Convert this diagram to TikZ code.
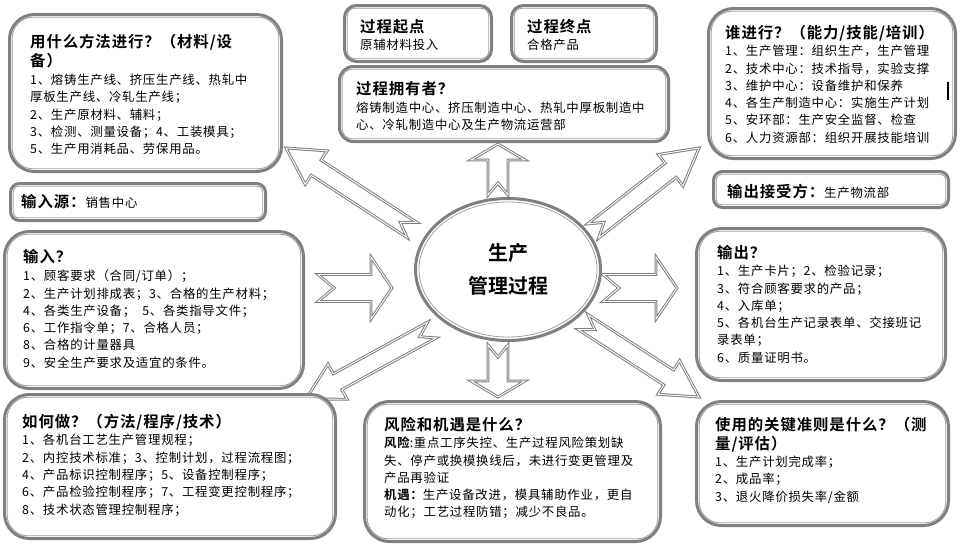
\documentclass[tikz,border=0pt]{standalone}
\usepackage{fontspec}
\setmainfont{Noto Sans CJK SC}[BoldFont={Noto Sans CJK SC Bold}]
\newfontfamily\bodyfont{Noto Sans CJK SC}[BoldFont={Noto Sans CJK SC Bold}, LetterSpace=6]
\usetikzlibrary{shapes.geometric,calc}
\definecolor{outline}{RGB}{128,128,128}
\definecolor{inline}{RGB}{160,160,160}
\newcommand{\ttl}[1]{{\fontsize{15.4}{19}\selectfont\bfseries #1}}
\tikzset{
  box/.style={draw=outline, line width=3pt, fill=white, rounded corners=#1},
  box/.default=25pt,
  boxtext/.style={anchor=north west, align=left, inner sep=0pt, font=\bodyfont\fontsize{12.4}{17.3}\selectfont},
  innerline/.style={draw=inline, line width=0.8pt},
  blockarrow/.style={draw=outline, line width=1pt, double=white, double distance=0.9pt, fill=white, line join=miter},
  pics/notched/.style n args={5}{code={
    \pgfmathsetmacro{\len}{#1}
    \pgfmathsetmacro{\neck}{#1-#4}
    \path[blockarrow] (0,#2) -- (\neck,#2) -- (\neck,#3) -- (\len,0) -- (\neck,-#3) -- (\neck,-#2) -- (0,-#2) -- (#5,0) -- cycle;
  }}
}
% tail, tip, shaft half width, head half width, head length, notch depth
\newcommand{\flow}[6]{
\path let \p1=($(#2)-(#1)$), \n1={atan2(\y1,\x1)}, \n2={veclen(\x1,\y1)} in (#1) pic[rotate=\n1] {notched={\n2}{#3}{#4}{#5}{#6}};
}

\begin{document}
\begin{tikzpicture}[x=1pt, y=-1pt]
\useasboundingbox (0,0) rectangle (968,550);

% arrow ends
\coordinate (tl-tail) at (412,230);
\coordinate (tl-tip) at (286,148);
\coordinate (tr-tail) at (593,231);
\coordinate (tr-tip) at (699,148);
\coordinate (in-tail) at (318,288);
\coordinate (in-tip) at (392,288);
\coordinate (out-tail) at (603,288);
\coordinate (out-tip) at (677,288);
\coordinate (up-tail) at (498,195);
\coordinate (up-tip) at (498,144);
\coordinate (dn-tail) at (498,345);
\coordinate (dn-tip) at (498,397);
\coordinate (bl-tail) at (432,330);
\coordinate (bl-tip) at (306,399);
\coordinate (br-tail) at (583,322);
\coordinate (br-tip) at (699,397);

% arrows
\flow{tl-tail}{tl-tip}{9}{20}{36}{14}
\flow{tr-tail}{tr-tip}{9}{20}{36}{14}
\flow{bl-tail}{bl-tip}{9}{20}{36}{14}
\flow{br-tail}{br-tip}{9}{20}{36}{14}
\flow{in-tail}{in-tip}{13.5}{31}{21}{16}
\flow{out-tail}{out-tip}{13.5}{31}{21}{16}
\flow{up-tail}{up-tip}{10}{27}{16}{12}
\flow{dn-tail}{dn-tip}{10}{27}{16}{12}

% boxes
\node[box, minimum width=272pt, minimum height=157pt] (method) at (145.5,93) {};
\node[box=9pt, minimum width=255pt, minimum height=37pt] (source) at (138,202) {};
\node[box, minimum width=299pt, minimum height=157pt] (input) at (154,310) {};
\node[box, minimum width=331pt, minimum height=144pt] (how) at (170,466.5) {};
\node[box=12pt, minimum width=147pt, minimum height=56pt] (start) at (418,33.5) {};
\node[box=12pt, minimum width=145pt, minimum height=56pt] (finish) at (584,33.5) {};
\node[box=14pt, minimum width=329pt, minimum height=75pt] (owner) at (504,104) {};
\node[box, minimum width=247pt, minimum height=150pt] (who) at (832,83.5) {};
\node[box=9pt, minimum width=235pt, minimum height=36pt] (receiver) at (831,189.5) {};
\node[box, minimum width=249pt, minimum height=152pt] (output) at (821,304.5) {};
\node[box, minimum width=296pt, minimum height=140pt] (risk) at (512.5,471.5) {};
\node[box, minimum width=252pt, minimum height=124pt] (criteria) at (822.5,463.5) {};
\foreach \b/\r in {method/21, source/6, input/21, how/21, start/8, finish/8, owner/10, who/21, receiver/6, output/21, risk/21, criteria/21}
  \draw[innerline, rounded corners=\r pt] ([shift={(4.2,4.2)}]\b.north west) rectangle ([shift={(-4.2,-4.2)}]\b.south east);

% process
\node[ellipse, draw=outline, line width=3pt, fill=white, minimum width=185pt, minimum height=142pt, align=center, font=\fontsize{20}{33}\selectfont\bfseries] (proc) at (508,269.5) {生产\\管理过程};
\draw[innerline] (proc.center) ellipse [x radius=89pt, y radius=67.5pt];

% texts
\node[boxtext] (method-t) at ([shift={(22,21)}]method.north west) {\ttl{用什么方法进行？（材料/设}\\[1.5pt]\ttl{备）}\\[1pt]
1、熔铸生产线、挤压生产线、热轧中\\厚板生产线、冷轧生产线；\\2、生产原材料、辅料；\\3、检测、测量设备；4、工装模具；\\5、生产用消耗品、劳保用品。};
\node[boxtext] (source-t) at ([shift={(12,12)}]source.north west) {\ttl{输入源：}销售中心};
\node[boxtext] (input-t) at ([shift={(20,19)}]input.north west) {\ttl{输入？}\\[1pt]
1、顾客要求（合同/订单）；\\2、生产计划排成表；3、合格的生产材料；\\4、各类生产设备；\ \ 5、各类指导文件；\\6、工作指令单；7、合格人员；\\8、合格的计量器具\\9、安全生产要求及适宜的条件。};
\node[boxtext] (how-t) at ([shift={(19,21)}]how.north west) {\ttl{如何做？（方法/程序/技术）}\\[0pt]
1、各机台工艺生产管理规程；\\2、内控技术标准；3、控制计划，过程流程图；\\4、产品标识控制程序；5、设备控制程序；\\6、产品检验控制程序；7、工程变更控制程序；\\8、技术状态管理控制程序；};
\node[boxtext] (start-t) at ([shift={(17,15)}]start.north west) {\ttl{过程起点}\\[-0.5pt]原辅材料投入};
\node[boxtext] (finish-t) at ([shift={(17,15)}]finish.north west) {\ttl{过程终点}\\[-0.5pt]合格产品};
\node[boxtext] (owner-t) at ([shift={(18,16)}]owner.north west) {\ttl{过程拥有者？}\\[1pt]
熔铸制造中心、挤压制造中心、热轧中厚板制造中\\心、冷轧制造中心及生产物流运营部};
\node[boxtext] (who-t) at ([shift={(18,18)}]who.north west) {\ttl{谁进行？（能力/技能/培训）}\\[0pt]
1、生产管理：组织生产，生产管理\\2、技术中心：技术指导，实验支撑\\3、维护中心：设备维护和保养\\4、各生产制造中心：实施生产计划\\5、安环部：生产安全监督、检查\\6、人力资源部：组织开展技能培训};
\draw[line width=1.4pt] (948,82) -- (948,100);
\node[boxtext] (receiver-t) at ([shift={(15,14)}]receiver.north west) {\ttl{输出接受方：}生产物流部};
\node[boxtext] (output-t) at ([shift={(22,18)}]output.north west) {\ttl{输出？}\\[0pt]
1、生产卡片；2、检验记录；\\3、符合顾客要求的产品；\\4、入库单；\\5、各机台生产记录表单、交接班记\\录表单；\\6、质量证明书。};
\node[boxtext] (risk-t) at ([shift={(21,17)}]risk.north west) {\ttl{风险和机遇是什么？}\\[0pt]
{\bfseries 风险}:重点工序失控、生产过程风险策划缺\\失、停产或换模换线后，未进行变更管理及\\产品再验证\\{\bfseries 机遇：}生产设备改进，模具辅助作业，更自\\动化；工艺过程防错；减少不良品。};
\node[boxtext] (criteria-t) at ([shift={(20,17)}]criteria.north west) {\ttl{使用的关键准则是什么？（测}\\[1.5pt]\ttl{量/评估）}\\[0pt]
1、生产计划完成率；\\2、成品率；\\3、退火降价损失率/金额};
\end{tikzpicture}
\end{document}
